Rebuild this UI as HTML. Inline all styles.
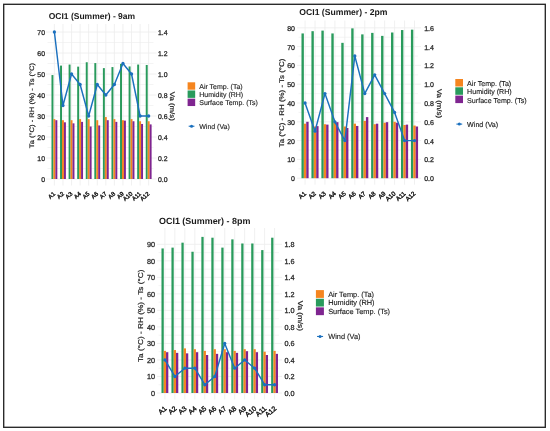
<!DOCTYPE html>
<html><head><meta charset="utf-8"><title>OCI1 Summer charts</title>
<style>html,body{margin:0;padding:0;background:#fff}svg{display:block;filter:blur(0.3px)}</style></head>
<body>
<svg width="550" height="431" viewBox="0 0 550 431" font-family="'Liberation Sans', sans-serif" text-rendering="geometricPrecision">
<rect x="0" y="0" width="550" height="431" fill="#fff"/>
<rect x="3.7" y="4.3" width="541.6" height="423.0" fill="none" stroke="#262626" stroke-width="1.35"/>
<g>
<line x1="46" x2="156.5" y1="179.00" y2="179.00" stroke="#ececec" stroke-width="0.8"/>
<line x1="47.5" x2="153.5" y1="168.50" y2="168.50" stroke="#f1f1f1" stroke-width="0.8"/>
<line x1="46" x2="156.5" y1="158.00" y2="158.00" stroke="#ececec" stroke-width="0.8"/>
<line x1="47.5" x2="153.5" y1="147.50" y2="147.50" stroke="#f1f1f1" stroke-width="0.8"/>
<line x1="46" x2="156.5" y1="137.00" y2="137.00" stroke="#ececec" stroke-width="0.8"/>
<line x1="47.5" x2="153.5" y1="126.50" y2="126.50" stroke="#f1f1f1" stroke-width="0.8"/>
<line x1="46" x2="156.5" y1="116.00" y2="116.00" stroke="#ececec" stroke-width="0.8"/>
<line x1="47.5" x2="153.5" y1="105.50" y2="105.50" stroke="#f1f1f1" stroke-width="0.8"/>
<line x1="46" x2="156.5" y1="95.00" y2="95.00" stroke="#ececec" stroke-width="0.8"/>
<line x1="47.5" x2="153.5" y1="84.50" y2="84.50" stroke="#f1f1f1" stroke-width="0.8"/>
<line x1="46" x2="156.5" y1="74.00" y2="74.00" stroke="#ececec" stroke-width="0.8"/>
<line x1="47.5" x2="153.5" y1="63.50" y2="63.50" stroke="#f1f1f1" stroke-width="0.8"/>
<line x1="46" x2="156.5" y1="53.00" y2="53.00" stroke="#ececec" stroke-width="0.8"/>
<line x1="47.5" x2="153.5" y1="42.50" y2="42.50" stroke="#f1f1f1" stroke-width="0.8"/>
<line x1="46" x2="156.5" y1="32.00" y2="32.00" stroke="#ececec" stroke-width="0.8"/>
<line x1="54.40" x2="54.40" y1="24.00" y2="185.50" stroke="#ececec" stroke-width="0.8"/>
<line x1="62.97" x2="62.97" y1="24.00" y2="185.50" stroke="#ececec" stroke-width="0.8"/>
<line x1="71.54" x2="71.54" y1="24.00" y2="185.50" stroke="#ececec" stroke-width="0.8"/>
<line x1="80.11" x2="80.11" y1="24.00" y2="185.50" stroke="#ececec" stroke-width="0.8"/>
<line x1="88.68" x2="88.68" y1="24.00" y2="185.50" stroke="#ececec" stroke-width="0.8"/>
<line x1="97.25" x2="97.25" y1="24.00" y2="185.50" stroke="#ececec" stroke-width="0.8"/>
<line x1="105.82" x2="105.82" y1="24.00" y2="185.50" stroke="#ececec" stroke-width="0.8"/>
<line x1="114.39" x2="114.39" y1="24.00" y2="185.50" stroke="#ececec" stroke-width="0.8"/>
<line x1="122.96" x2="122.96" y1="24.00" y2="185.50" stroke="#ececec" stroke-width="0.8"/>
<line x1="131.53" x2="131.53" y1="24.00" y2="185.50" stroke="#ececec" stroke-width="0.8"/>
<line x1="140.10" x2="140.10" y1="24.00" y2="185.50" stroke="#ececec" stroke-width="0.8"/>
<line x1="148.67" x2="148.67" y1="24.00" y2="185.50" stroke="#ececec" stroke-width="0.8"/>
<rect x="51.48" y="75.05" width="1.95" height="103.95" fill="#299a5c"/>
<rect x="53.42" y="119.15" width="1.95" height="59.85" fill="#f5851f"/>
<rect x="55.38" y="120.20" width="1.95" height="58.80" fill="#7f2590"/>
<rect x="60.05" y="65.60" width="1.95" height="113.40" fill="#299a5c"/>
<rect x="61.99" y="120.20" width="1.95" height="58.80" fill="#f5851f"/>
<rect x="63.95" y="122.30" width="1.95" height="56.70" fill="#7f2590"/>
<rect x="68.61" y="64.55" width="1.95" height="114.45" fill="#299a5c"/>
<rect x="70.56" y="120.20" width="1.95" height="58.80" fill="#f5851f"/>
<rect x="72.51" y="123.35" width="1.95" height="55.65" fill="#7f2590"/>
<rect x="77.19" y="66.65" width="1.95" height="112.35" fill="#299a5c"/>
<rect x="79.14" y="119.15" width="1.95" height="59.85" fill="#f5851f"/>
<rect x="81.08" y="121.88" width="1.95" height="57.12" fill="#7f2590"/>
<rect x="85.76" y="62.24" width="1.95" height="116.76" fill="#299a5c"/>
<rect x="87.71" y="119.15" width="1.95" height="59.85" fill="#f5851f"/>
<rect x="89.66" y="126.50" width="1.95" height="52.50" fill="#7f2590"/>
<rect x="94.33" y="63.08" width="1.95" height="115.92" fill="#299a5c"/>
<rect x="96.28" y="120.20" width="1.95" height="58.80" fill="#f5851f"/>
<rect x="98.22" y="125.45" width="1.95" height="53.55" fill="#7f2590"/>
<rect x="102.89" y="68.12" width="1.95" height="110.88" fill="#299a5c"/>
<rect x="104.84" y="117.05" width="1.95" height="61.95" fill="#f5851f"/>
<rect x="106.79" y="120.20" width="1.95" height="58.80" fill="#7f2590"/>
<rect x="111.47" y="67.07" width="1.95" height="111.93" fill="#299a5c"/>
<rect x="113.42" y="119.15" width="1.95" height="59.85" fill="#f5851f"/>
<rect x="115.36" y="121.88" width="1.95" height="57.12" fill="#7f2590"/>
<rect x="120.04" y="63.92" width="1.95" height="115.08" fill="#299a5c"/>
<rect x="121.99" y="120.20" width="1.95" height="58.80" fill="#f5851f"/>
<rect x="123.94" y="120.62" width="1.95" height="58.38" fill="#7f2590"/>
<rect x="128.60" y="66.44" width="1.95" height="112.56" fill="#299a5c"/>
<rect x="130.56" y="119.15" width="1.95" height="59.85" fill="#f5851f"/>
<rect x="132.50" y="121.25" width="1.95" height="57.75" fill="#7f2590"/>
<rect x="137.17" y="64.55" width="1.95" height="114.45" fill="#299a5c"/>
<rect x="139.12" y="121.25" width="1.95" height="57.75" fill="#f5851f"/>
<rect x="141.07" y="123.98" width="1.95" height="55.02" fill="#7f2590"/>
<rect x="145.75" y="64.97" width="1.95" height="114.03" fill="#299a5c"/>
<rect x="147.70" y="121.25" width="1.95" height="57.75" fill="#f5851f"/>
<rect x="149.65" y="124.40" width="1.95" height="54.60" fill="#7f2590"/>
<polyline points="54.40,32.00 62.97,105.50 71.54,74.00 80.11,84.50 88.68,116.00 97.25,84.50 105.82,95.00 114.39,84.50 122.96,63.50 131.53,74.00 140.10,116.00 148.67,116.00" fill="none" stroke="#1b70be" stroke-width="1.45" stroke-linejoin="round"/>
<circle cx="54.40" cy="32.00" r="1.65" fill="#1b70be"/>
<circle cx="62.97" cy="105.50" r="1.65" fill="#1b70be"/>
<circle cx="71.54" cy="74.00" r="1.65" fill="#1b70be"/>
<circle cx="80.11" cy="84.50" r="1.65" fill="#1b70be"/>
<circle cx="88.68" cy="116.00" r="1.65" fill="#1b70be"/>
<circle cx="97.25" cy="84.50" r="1.65" fill="#1b70be"/>
<circle cx="105.82" cy="95.00" r="1.65" fill="#1b70be"/>
<circle cx="114.39" cy="84.50" r="1.65" fill="#1b70be"/>
<circle cx="122.96" cy="63.50" r="1.65" fill="#1b70be"/>
<circle cx="131.53" cy="74.00" r="1.65" fill="#1b70be"/>
<circle cx="140.10" cy="116.00" r="1.65" fill="#1b70be"/>
<circle cx="148.67" cy="116.00" r="1.65" fill="#1b70be"/>
<g font-size="6.89" fill="#2a2a2a" stroke="#2a2a2a" stroke-width="0.28">
<text x="45" y="181.86" text-anchor="end">0</text>
<text x="158" y="182.36">0.0</text>
<text x="45" y="160.86" text-anchor="end">10</text>
<text x="158" y="161.36">0.2</text>
<text x="45" y="139.86" text-anchor="end">20</text>
<text x="158" y="140.36">0.4</text>
<text x="45" y="118.86" text-anchor="end">30</text>
<text x="158" y="119.36">0.6</text>
<text x="45" y="97.86" text-anchor="end">40</text>
<text x="158" y="98.36">0.8</text>
<text x="45" y="76.86" text-anchor="end">50</text>
<text x="158" y="77.36">1.0</text>
<text x="45" y="55.86" text-anchor="end">60</text>
<text x="158" y="56.36">1.2</text>
<text x="45" y="34.86" text-anchor="end">70</text>
<text x="158" y="35.36">1.4</text>
</g>
<g font-size="5.9" fill="#111" stroke="#111" stroke-width="0.35" text-anchor="end">
<text transform="translate(54.40,192.80) rotate(-41)" y="2.11">A1</text>
<text transform="translate(62.97,192.80) rotate(-41)" y="2.11">A2</text>
<text transform="translate(71.54,192.80) rotate(-41)" y="2.11">A3</text>
<text transform="translate(80.11,192.80) rotate(-41)" y="2.11">A4</text>
<text transform="translate(88.68,192.80) rotate(-41)" y="2.11">A5</text>
<text transform="translate(97.25,192.80) rotate(-41)" y="2.11">A6</text>
<text transform="translate(105.82,192.80) rotate(-41)" y="2.11">A7</text>
<text transform="translate(114.39,192.80) rotate(-41)" y="2.11">A8</text>
<text transform="translate(122.96,192.80) rotate(-41)" y="2.11">A9</text>
<text transform="translate(131.53,192.80) rotate(-41)" y="2.11">A10</text>
<text transform="translate(140.10,192.80) rotate(-41)" y="2.11">A11</text>
<text transform="translate(148.67,192.80) rotate(-41)" y="2.11">A12</text>
</g>
<text font-size="7.6" fill="#222" stroke="#222" stroke-width="0.25" text-anchor="middle" transform="translate(33.5,105.50) rotate(-90) scale(1,0.85)">Ta (°C) - RH (%) - Ts (°C)</text>
<text font-size="7.8" fill="#222" stroke="#222" stroke-width="0.25" text-anchor="middle" transform="translate(170.3,106.30) rotate(90) scale(1,0.85)">Va (m/s)</text>
<text x="48.7" y="18.9" font-size="8.5" font-weight="bold" fill="#1a1a1a">OCI1 (Summer) - 9am</text>
<rect x="187.6" y="82.30" width="7.58" height="7.39" fill="#f5851f"/>
<text x="199.22" y="88.60" font-size="7.01" fill="#1e1e1e" stroke="#1e1e1e" stroke-width="0.14">Air Temp. (Ta)</text>
<rect x="187.6" y="90.48" width="7.58" height="7.39" fill="#299a5c"/>
<text x="199.22" y="96.78" font-size="7.01" fill="#1e1e1e" stroke="#1e1e1e" stroke-width="0.14">Humidity (RH)</text>
<rect x="187.6" y="98.65" width="7.58" height="7.39" fill="#7f2590"/>
<text x="199.22" y="104.95" font-size="7.01" fill="#1e1e1e" stroke="#1e1e1e" stroke-width="0.14">Surface Temp. (Ts)</text>
<line x1="188.68" x2="194.40" y1="126.23" y2="126.23" stroke="#1b70be" stroke-width="1.1"/>
<circle cx="191.54" cy="126.23" r="1.5" fill="#1b70be"/>
<text x="199.22" y="128.59" font-size="7.01" fill="#1e1e1e" stroke="#1e1e1e" stroke-width="0.14">Wind (Va)</text>
</g>
<g>
<line x1="297" x2="421" y1="178.20" y2="178.20" stroke="#ececec" stroke-width="0.8"/>
<line x1="298.5" x2="418" y1="168.80" y2="168.80" stroke="#f1f1f1" stroke-width="0.8"/>
<line x1="297" x2="421" y1="159.40" y2="159.40" stroke="#ececec" stroke-width="0.8"/>
<line x1="298.5" x2="418" y1="150.00" y2="150.00" stroke="#f1f1f1" stroke-width="0.8"/>
<line x1="297" x2="421" y1="140.60" y2="140.60" stroke="#ececec" stroke-width="0.8"/>
<line x1="298.5" x2="418" y1="131.20" y2="131.20" stroke="#f1f1f1" stroke-width="0.8"/>
<line x1="297" x2="421" y1="121.80" y2="121.80" stroke="#ececec" stroke-width="0.8"/>
<line x1="298.5" x2="418" y1="112.40" y2="112.40" stroke="#f1f1f1" stroke-width="0.8"/>
<line x1="297" x2="421" y1="103.00" y2="103.00" stroke="#ececec" stroke-width="0.8"/>
<line x1="298.5" x2="418" y1="93.60" y2="93.60" stroke="#f1f1f1" stroke-width="0.8"/>
<line x1="297" x2="421" y1="84.20" y2="84.20" stroke="#ececec" stroke-width="0.8"/>
<line x1="298.5" x2="418" y1="74.80" y2="74.80" stroke="#f1f1f1" stroke-width="0.8"/>
<line x1="297" x2="421" y1="65.40" y2="65.40" stroke="#ececec" stroke-width="0.8"/>
<line x1="298.5" x2="418" y1="56.00" y2="56.00" stroke="#f1f1f1" stroke-width="0.8"/>
<line x1="297" x2="421" y1="46.60" y2="46.60" stroke="#ececec" stroke-width="0.8"/>
<line x1="298.5" x2="418" y1="37.20" y2="37.20" stroke="#f1f1f1" stroke-width="0.8"/>
<line x1="297" x2="421" y1="27.80" y2="27.80" stroke="#ececec" stroke-width="0.8"/>
<line x1="305.05" x2="305.05" y1="20.50" y2="184.70" stroke="#ececec" stroke-width="0.8"/>
<line x1="315.00" x2="315.00" y1="20.50" y2="184.70" stroke="#ececec" stroke-width="0.8"/>
<line x1="324.95" x2="324.95" y1="20.50" y2="184.70" stroke="#ececec" stroke-width="0.8"/>
<line x1="334.90" x2="334.90" y1="20.50" y2="184.70" stroke="#ececec" stroke-width="0.8"/>
<line x1="344.85" x2="344.85" y1="20.50" y2="184.70" stroke="#ececec" stroke-width="0.8"/>
<line x1="354.80" x2="354.80" y1="20.50" y2="184.70" stroke="#ececec" stroke-width="0.8"/>
<line x1="364.75" x2="364.75" y1="20.50" y2="184.70" stroke="#ececec" stroke-width="0.8"/>
<line x1="374.70" x2="374.70" y1="20.50" y2="184.70" stroke="#ececec" stroke-width="0.8"/>
<line x1="384.65" x2="384.65" y1="20.50" y2="184.70" stroke="#ececec" stroke-width="0.8"/>
<line x1="394.60" x2="394.60" y1="20.50" y2="184.70" stroke="#ececec" stroke-width="0.8"/>
<line x1="404.55" x2="404.55" y1="20.50" y2="184.70" stroke="#ececec" stroke-width="0.8"/>
<line x1="414.50" x2="414.50" y1="20.50" y2="184.70" stroke="#ececec" stroke-width="0.8"/>
<rect x="301.48" y="33.44" width="2.38" height="144.76" fill="#299a5c"/>
<rect x="303.86" y="123.68" width="2.38" height="54.52" fill="#f5851f"/>
<rect x="306.24" y="121.80" width="2.38" height="56.40" fill="#7f2590"/>
<rect x="311.43" y="31.18" width="2.38" height="147.02" fill="#299a5c"/>
<rect x="313.81" y="126.50" width="2.38" height="51.70" fill="#f5851f"/>
<rect x="316.19" y="126.12" width="2.38" height="52.08" fill="#7f2590"/>
<rect x="321.38" y="30.62" width="2.38" height="147.58" fill="#299a5c"/>
<rect x="323.76" y="124.24" width="2.38" height="53.96" fill="#f5851f"/>
<rect x="326.14" y="124.62" width="2.38" height="53.58" fill="#7f2590"/>
<rect x="331.33" y="33.44" width="2.38" height="144.76" fill="#299a5c"/>
<rect x="333.71" y="121.80" width="2.38" height="56.40" fill="#f5851f"/>
<rect x="336.09" y="122.18" width="2.38" height="56.02" fill="#7f2590"/>
<rect x="341.28" y="42.84" width="2.38" height="135.36" fill="#299a5c"/>
<rect x="343.66" y="126.50" width="2.38" height="51.70" fill="#f5851f"/>
<rect x="346.04" y="128.00" width="2.38" height="50.20" fill="#7f2590"/>
<rect x="351.23" y="28.36" width="2.38" height="149.84" fill="#299a5c"/>
<rect x="353.61" y="123.68" width="2.38" height="54.52" fill="#f5851f"/>
<rect x="355.99" y="125.94" width="2.38" height="52.26" fill="#7f2590"/>
<rect x="361.18" y="34.38" width="2.38" height="143.82" fill="#299a5c"/>
<rect x="363.56" y="120.86" width="2.38" height="57.34" fill="#f5851f"/>
<rect x="365.94" y="117.10" width="2.38" height="61.10" fill="#7f2590"/>
<rect x="371.13" y="32.88" width="2.38" height="145.32" fill="#299a5c"/>
<rect x="373.51" y="124.24" width="2.38" height="53.96" fill="#f5851f"/>
<rect x="375.89" y="123.68" width="2.38" height="54.52" fill="#7f2590"/>
<rect x="381.08" y="35.88" width="2.38" height="142.32" fill="#299a5c"/>
<rect x="383.46" y="122.74" width="2.38" height="55.46" fill="#f5851f"/>
<rect x="385.84" y="122.18" width="2.38" height="56.02" fill="#7f2590"/>
<rect x="391.03" y="32.50" width="2.38" height="145.70" fill="#299a5c"/>
<rect x="393.41" y="121.80" width="2.38" height="56.40" fill="#f5851f"/>
<rect x="395.79" y="122.74" width="2.38" height="55.46" fill="#7f2590"/>
<rect x="400.98" y="30.06" width="2.38" height="148.14" fill="#299a5c"/>
<rect x="403.36" y="125.00" width="2.38" height="53.20" fill="#f5851f"/>
<rect x="405.74" y="124.62" width="2.38" height="53.58" fill="#7f2590"/>
<rect x="410.93" y="29.68" width="2.38" height="148.52" fill="#299a5c"/>
<rect x="413.31" y="125.56" width="2.38" height="52.64" fill="#f5851f"/>
<rect x="415.69" y="126.50" width="2.38" height="51.70" fill="#7f2590"/>
<polyline points="305.05,103.00 315.00,131.20 324.95,93.60 334.90,121.80 344.85,140.60 354.80,56.00 364.75,93.60 374.70,74.80 384.65,93.60 394.60,112.40 404.55,140.60 414.50,140.60" fill="none" stroke="#1b70be" stroke-width="1.45" stroke-linejoin="round"/>
<circle cx="305.05" cy="103.00" r="1.65" fill="#1b70be"/>
<circle cx="315.00" cy="131.20" r="1.65" fill="#1b70be"/>
<circle cx="324.95" cy="93.60" r="1.65" fill="#1b70be"/>
<circle cx="334.90" cy="121.80" r="1.65" fill="#1b70be"/>
<circle cx="344.85" cy="140.60" r="1.65" fill="#1b70be"/>
<circle cx="354.80" cy="56.00" r="1.65" fill="#1b70be"/>
<circle cx="364.75" cy="93.60" r="1.65" fill="#1b70be"/>
<circle cx="374.70" cy="74.80" r="1.65" fill="#1b70be"/>
<circle cx="384.65" cy="93.60" r="1.65" fill="#1b70be"/>
<circle cx="394.60" cy="112.40" r="1.65" fill="#1b70be"/>
<circle cx="404.55" cy="140.60" r="1.65" fill="#1b70be"/>
<circle cx="414.50" cy="140.60" r="1.65" fill="#1b70be"/>
<g font-size="7.00" fill="#2a2a2a" stroke="#2a2a2a" stroke-width="0.28">
<text x="295" y="181.10" text-anchor="end">0</text>
<text x="424.2" y="181.10">0.0</text>
<text x="295" y="162.30" text-anchor="end">10</text>
<text x="424.2" y="162.30">0.2</text>
<text x="295" y="143.50" text-anchor="end">20</text>
<text x="424.2" y="143.50">0.4</text>
<text x="295" y="124.70" text-anchor="end">30</text>
<text x="424.2" y="124.70">0.6</text>
<text x="295" y="105.90" text-anchor="end">40</text>
<text x="424.2" y="105.90">0.8</text>
<text x="295" y="87.10" text-anchor="end">50</text>
<text x="424.2" y="87.10">1.0</text>
<text x="295" y="68.30" text-anchor="end">60</text>
<text x="424.2" y="68.30">1.2</text>
<text x="295" y="49.50" text-anchor="end">70</text>
<text x="424.2" y="49.50">1.4</text>
<text x="295" y="30.70" text-anchor="end">80</text>
<text x="424.2" y="30.70">1.6</text>
</g>
<g font-size="6.2" fill="#111" stroke="#111" stroke-width="0.35" text-anchor="end">
<text transform="translate(305.05,192.60) rotate(-41)" y="2.22">A1</text>
<text transform="translate(315.00,192.60) rotate(-41)" y="2.22">A2</text>
<text transform="translate(324.95,192.60) rotate(-41)" y="2.22">A3</text>
<text transform="translate(334.90,192.60) rotate(-41)" y="2.22">A4</text>
<text transform="translate(344.85,192.60) rotate(-41)" y="2.22">A5</text>
<text transform="translate(354.80,192.60) rotate(-41)" y="2.22">A6</text>
<text transform="translate(364.75,192.60) rotate(-41)" y="2.22">A7</text>
<text transform="translate(374.70,192.60) rotate(-41)" y="2.22">A8</text>
<text transform="translate(384.65,192.60) rotate(-41)" y="2.22">A9</text>
<text transform="translate(394.60,192.60) rotate(-41)" y="2.22">A10</text>
<text transform="translate(404.55,192.60) rotate(-41)" y="2.22">A11</text>
<text transform="translate(414.50,192.60) rotate(-41)" y="2.22">A12</text>
</g>
<text font-size="7.9" fill="#222" stroke="#222" stroke-width="0.25" text-anchor="middle" transform="translate(283.6,103.00) rotate(-90) scale(1,0.85)">Ta (°C) - RH (%) - Ts (°C)</text>
<text font-size="7.9" fill="#222" stroke="#222" stroke-width="0.25" text-anchor="middle" transform="translate(436.7,103.50) rotate(90) scale(1,0.85)">Va (m/s)</text>
<text x="299.3" y="14.9" font-size="8.65" font-weight="bold" fill="#1a1a1a">OCI1 (Summer) - 2pm</text>
<rect x="455.3" y="79.00" width="7.70" height="7.50" fill="#f5851f"/>
<text x="467.10" y="85.90" font-size="7.12" fill="#1e1e1e" stroke="#1e1e1e" stroke-width="0.14">Air Temp. (Ta)</text>
<rect x="455.3" y="87.30" width="7.70" height="7.50" fill="#299a5c"/>
<text x="467.10" y="94.20" font-size="7.12" fill="#1e1e1e" stroke="#1e1e1e" stroke-width="0.14">Humidity (RH)</text>
<rect x="455.3" y="95.60" width="7.70" height="7.50" fill="#7f2590"/>
<text x="467.10" y="102.50" font-size="7.12" fill="#1e1e1e" stroke="#1e1e1e" stroke-width="0.14">Surface Temp. (Ts)</text>
<line x1="456.40" x2="462.20" y1="124.10" y2="124.10" stroke="#1b70be" stroke-width="1.1"/>
<circle cx="459.30" cy="124.10" r="1.5" fill="#1b70be"/>
<text x="467.10" y="126.50" font-size="7.12" fill="#1e1e1e" stroke="#1e1e1e" stroke-width="0.14">Wind (Va)</text>
</g>
<g>
<line x1="157" x2="282" y1="393.00" y2="393.00" stroke="#ececec" stroke-width="0.8"/>
<line x1="158.5" x2="279" y1="384.74" y2="384.74" stroke="#f1f1f1" stroke-width="0.8"/>
<line x1="157" x2="282" y1="376.48" y2="376.48" stroke="#ececec" stroke-width="0.8"/>
<line x1="158.5" x2="279" y1="368.22" y2="368.22" stroke="#f1f1f1" stroke-width="0.8"/>
<line x1="157" x2="282" y1="359.96" y2="359.96" stroke="#ececec" stroke-width="0.8"/>
<line x1="158.5" x2="279" y1="351.70" y2="351.70" stroke="#f1f1f1" stroke-width="0.8"/>
<line x1="157" x2="282" y1="343.44" y2="343.44" stroke="#ececec" stroke-width="0.8"/>
<line x1="158.5" x2="279" y1="335.18" y2="335.18" stroke="#f1f1f1" stroke-width="0.8"/>
<line x1="157" x2="282" y1="326.92" y2="326.92" stroke="#ececec" stroke-width="0.8"/>
<line x1="158.5" x2="279" y1="318.66" y2="318.66" stroke="#f1f1f1" stroke-width="0.8"/>
<line x1="157" x2="282" y1="310.40" y2="310.40" stroke="#ececec" stroke-width="0.8"/>
<line x1="158.5" x2="279" y1="302.14" y2="302.14" stroke="#f1f1f1" stroke-width="0.8"/>
<line x1="157" x2="282" y1="293.88" y2="293.88" stroke="#ececec" stroke-width="0.8"/>
<line x1="158.5" x2="279" y1="285.62" y2="285.62" stroke="#f1f1f1" stroke-width="0.8"/>
<line x1="157" x2="282" y1="277.36" y2="277.36" stroke="#ececec" stroke-width="0.8"/>
<line x1="158.5" x2="279" y1="269.10" y2="269.10" stroke="#f1f1f1" stroke-width="0.8"/>
<line x1="157" x2="282" y1="260.84" y2="260.84" stroke="#ececec" stroke-width="0.8"/>
<line x1="158.5" x2="279" y1="252.58" y2="252.58" stroke="#f1f1f1" stroke-width="0.8"/>
<line x1="157" x2="282" y1="244.32" y2="244.32" stroke="#ececec" stroke-width="0.8"/>
<line x1="164.90" x2="164.90" y1="228.00" y2="399.50" stroke="#ececec" stroke-width="0.8"/>
<line x1="174.87" x2="174.87" y1="228.00" y2="399.50" stroke="#ececec" stroke-width="0.8"/>
<line x1="184.84" x2="184.84" y1="228.00" y2="399.50" stroke="#ececec" stroke-width="0.8"/>
<line x1="194.81" x2="194.81" y1="228.00" y2="399.50" stroke="#ececec" stroke-width="0.8"/>
<line x1="204.78" x2="204.78" y1="228.00" y2="399.50" stroke="#ececec" stroke-width="0.8"/>
<line x1="214.75" x2="214.75" y1="228.00" y2="399.50" stroke="#ececec" stroke-width="0.8"/>
<line x1="224.72" x2="224.72" y1="228.00" y2="399.50" stroke="#ececec" stroke-width="0.8"/>
<line x1="234.69" x2="234.69" y1="228.00" y2="399.50" stroke="#ececec" stroke-width="0.8"/>
<line x1="244.66" x2="244.66" y1="228.00" y2="399.50" stroke="#ececec" stroke-width="0.8"/>
<line x1="254.63" x2="254.63" y1="228.00" y2="399.50" stroke="#ececec" stroke-width="0.8"/>
<line x1="264.60" x2="264.60" y1="228.00" y2="399.50" stroke="#ececec" stroke-width="0.8"/>
<line x1="274.57" x2="274.57" y1="228.00" y2="399.50" stroke="#ececec" stroke-width="0.8"/>
<rect x="161.48" y="248.45" width="2.28" height="144.55" fill="#299a5c"/>
<rect x="163.76" y="350.87" width="2.28" height="42.13" fill="#f5851f"/>
<rect x="166.04" y="352.20" width="2.28" height="40.80" fill="#7f2590"/>
<rect x="171.45" y="247.62" width="2.28" height="145.38" fill="#299a5c"/>
<rect x="173.73" y="350.05" width="2.28" height="42.95" fill="#f5851f"/>
<rect x="176.01" y="352.86" width="2.28" height="40.14" fill="#7f2590"/>
<rect x="181.42" y="242.67" width="2.28" height="150.33" fill="#299a5c"/>
<rect x="183.70" y="348.40" width="2.28" height="44.60" fill="#f5851f"/>
<rect x="185.98" y="353.35" width="2.28" height="39.65" fill="#7f2590"/>
<rect x="191.39" y="251.75" width="2.28" height="141.25" fill="#299a5c"/>
<rect x="193.67" y="349.22" width="2.28" height="43.78" fill="#f5851f"/>
<rect x="195.95" y="352.20" width="2.28" height="40.80" fill="#7f2590"/>
<rect x="201.36" y="236.89" width="2.28" height="156.11" fill="#299a5c"/>
<rect x="203.64" y="350.87" width="2.28" height="42.13" fill="#f5851f"/>
<rect x="205.92" y="355.00" width="2.28" height="38.00" fill="#7f2590"/>
<rect x="211.33" y="237.71" width="2.28" height="155.29" fill="#299a5c"/>
<rect x="213.61" y="349.22" width="2.28" height="43.78" fill="#f5851f"/>
<rect x="215.89" y="353.85" width="2.28" height="39.15" fill="#7f2590"/>
<rect x="221.30" y="247.62" width="2.28" height="145.38" fill="#299a5c"/>
<rect x="223.58" y="349.22" width="2.28" height="43.78" fill="#f5851f"/>
<rect x="225.86" y="352.20" width="2.28" height="40.80" fill="#7f2590"/>
<rect x="231.27" y="239.36" width="2.28" height="153.64" fill="#299a5c"/>
<rect x="233.55" y="350.87" width="2.28" height="42.13" fill="#f5851f"/>
<rect x="235.83" y="352.86" width="2.28" height="40.14" fill="#7f2590"/>
<rect x="241.24" y="243.49" width="2.28" height="149.51" fill="#299a5c"/>
<rect x="243.52" y="349.22" width="2.28" height="43.78" fill="#f5851f"/>
<rect x="245.80" y="351.20" width="2.28" height="41.80" fill="#7f2590"/>
<rect x="251.21" y="243.49" width="2.28" height="149.51" fill="#299a5c"/>
<rect x="253.49" y="349.22" width="2.28" height="43.78" fill="#f5851f"/>
<rect x="255.77" y="352.20" width="2.28" height="40.80" fill="#7f2590"/>
<rect x="261.18" y="250.10" width="2.28" height="142.90" fill="#299a5c"/>
<rect x="263.46" y="351.70" width="2.28" height="41.30" fill="#f5851f"/>
<rect x="265.74" y="355.00" width="2.28" height="38.00" fill="#7f2590"/>
<rect x="271.15" y="237.71" width="2.28" height="155.29" fill="#299a5c"/>
<rect x="273.43" y="350.87" width="2.28" height="42.13" fill="#f5851f"/>
<rect x="275.71" y="353.85" width="2.28" height="39.15" fill="#7f2590"/>
<polyline points="164.90,359.96 174.87,376.48 184.84,368.22 194.81,368.22 204.78,384.74 214.75,376.48 224.72,343.44 234.69,368.22 244.66,359.96 254.63,368.22 264.60,384.74 274.57,384.74" fill="none" stroke="#1b70be" stroke-width="1.45" stroke-linejoin="round"/>
<circle cx="164.90" cy="359.96" r="1.65" fill="#1b70be"/>
<circle cx="174.87" cy="376.48" r="1.65" fill="#1b70be"/>
<circle cx="184.84" cy="368.22" r="1.65" fill="#1b70be"/>
<circle cx="194.81" cy="368.22" r="1.65" fill="#1b70be"/>
<circle cx="204.78" cy="384.74" r="1.65" fill="#1b70be"/>
<circle cx="214.75" cy="376.48" r="1.65" fill="#1b70be"/>
<circle cx="224.72" cy="343.44" r="1.65" fill="#1b70be"/>
<circle cx="234.69" cy="368.22" r="1.65" fill="#1b70be"/>
<circle cx="244.66" cy="359.96" r="1.65" fill="#1b70be"/>
<circle cx="254.63" cy="368.22" r="1.65" fill="#1b70be"/>
<circle cx="264.60" cy="384.74" r="1.65" fill="#1b70be"/>
<circle cx="274.57" cy="384.74" r="1.65" fill="#1b70be"/>
<g font-size="7.28" fill="#2a2a2a" stroke="#2a2a2a" stroke-width="0.28">
<text x="155" y="396.00" text-anchor="end">0</text>
<text x="284.4" y="396.00">0.0</text>
<text x="155" y="379.48" text-anchor="end">10</text>
<text x="284.4" y="379.48">0.2</text>
<text x="155" y="362.96" text-anchor="end">20</text>
<text x="284.4" y="362.96">0.4</text>
<text x="155" y="346.44" text-anchor="end">30</text>
<text x="284.4" y="346.44">0.6</text>
<text x="155" y="329.92" text-anchor="end">40</text>
<text x="284.4" y="329.92">0.8</text>
<text x="155" y="313.40" text-anchor="end">50</text>
<text x="284.4" y="313.40">1.0</text>
<text x="155" y="296.88" text-anchor="end">60</text>
<text x="284.4" y="296.88">1.2</text>
<text x="155" y="280.36" text-anchor="end">70</text>
<text x="284.4" y="280.36">1.4</text>
<text x="155" y="263.84" text-anchor="end">80</text>
<text x="284.4" y="263.84">1.6</text>
<text x="155" y="247.32" text-anchor="end">90</text>
<text x="284.4" y="247.32">1.8</text>
</g>
<g font-size="6.9" fill="#111" stroke="#111" stroke-width="0.35" text-anchor="end">
<text transform="translate(165.50,407.30) rotate(-41)" y="2.47">A1</text>
<text transform="translate(175.47,407.30) rotate(-41)" y="2.47">A2</text>
<text transform="translate(185.44,407.30) rotate(-41)" y="2.47">A3</text>
<text transform="translate(195.41,407.30) rotate(-41)" y="2.47">A4</text>
<text transform="translate(205.38,407.30) rotate(-41)" y="2.47">A5</text>
<text transform="translate(215.35,407.30) rotate(-41)" y="2.47">A6</text>
<text transform="translate(225.32,407.30) rotate(-41)" y="2.47">A7</text>
<text transform="translate(235.29,407.30) rotate(-41)" y="2.47">A8</text>
<text transform="translate(245.26,407.30) rotate(-41)" y="2.47">A9</text>
<text transform="translate(255.23,407.30) rotate(-41)" y="2.47">A10</text>
<text transform="translate(265.20,407.30) rotate(-41)" y="2.47">A11</text>
<text transform="translate(275.17,407.30) rotate(-41)" y="2.47">A12</text>
</g>
<text font-size="8.25" fill="#222" stroke="#222" stroke-width="0.25" text-anchor="middle" transform="translate(143.29999999999998,315.80) rotate(-90) scale(1,0.85)">Ta (°C) - RH (%) - Ts (°C)</text>
<text font-size="8.15" fill="#222" stroke="#222" stroke-width="0.25" text-anchor="middle" transform="translate(297.7,315.80) rotate(90) scale(1,0.85)">Va (m/s)</text>
<text x="159" y="223.5" font-size="8.95" font-weight="bold" fill="#1a1a1a">OCI1 (Summer) - 8pm</text>
<rect x="315.9" y="290.10" width="8.01" height="7.80" fill="#f5851f"/>
<text x="328.17" y="296.76" font-size="7.40" fill="#1e1e1e" stroke="#1e1e1e" stroke-width="0.14">Air Temp. (Ta)</text>
<rect x="315.9" y="298.73" width="8.01" height="7.80" fill="#299a5c"/>
<text x="328.17" y="305.39" font-size="7.40" fill="#1e1e1e" stroke="#1e1e1e" stroke-width="0.14">Humidity (RH)</text>
<rect x="315.9" y="307.36" width="8.01" height="7.80" fill="#7f2590"/>
<text x="328.17" y="314.02" font-size="7.40" fill="#1e1e1e" stroke="#1e1e1e" stroke-width="0.14">Surface Temp. (Ts)</text>
<line x1="317.04" x2="323.08" y1="336.48" y2="336.48" stroke="#1b70be" stroke-width="1.1"/>
<circle cx="320.06" cy="336.48" r="1.5" fill="#1b70be"/>
<text x="328.17" y="338.98" font-size="7.40" fill="#1e1e1e" stroke="#1e1e1e" stroke-width="0.14">Wind (Va)</text>
</g>
</svg>
</body></html>
